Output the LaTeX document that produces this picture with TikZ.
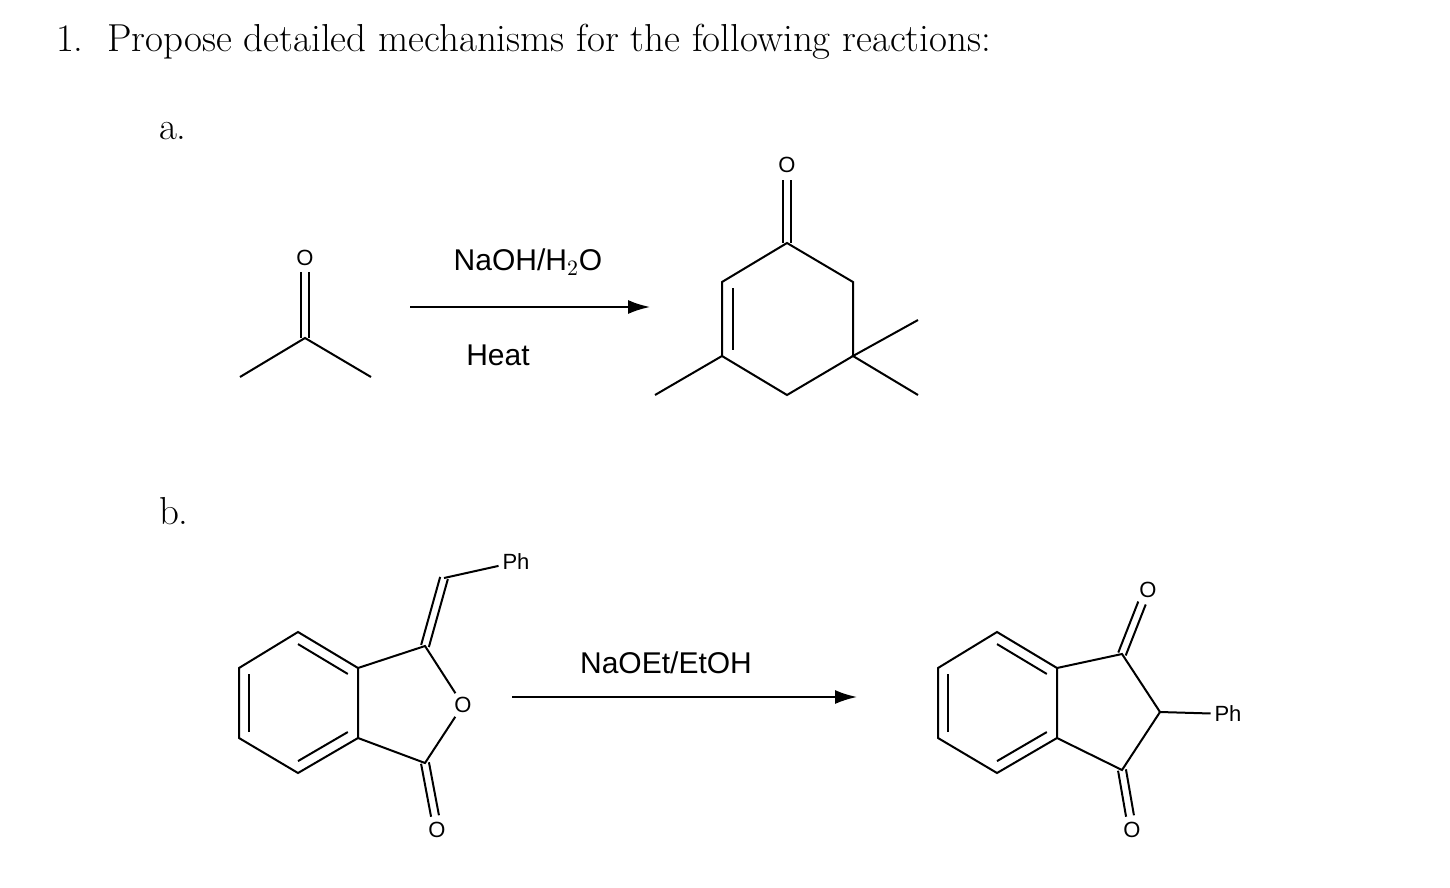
\documentclass[tikz,border=0pt]{standalone}
\usepackage{fontspec}
\newfontfamily\chemfont{Liberation Sans}
\usetikzlibrary{calc, arrows.meta}
\newcommand{\dbond}[2]{%
  \draw ($(#1)!2pt!90:(#2)$) -- ($(#2)!2pt!-90:(#1)$);
  \draw ($(#1)!2pt!-90:(#2)$) -- ($(#2)!2pt!90:(#1)$);}
\newcommand{\inner}[3]{\draw ($(#1)!0.17!(#3)$) -- ($(#2)!0.17!(#3)$);}
\begin{document}
\begin{tikzpicture}[x=0.5pt, y=-0.5pt, line width=1pt,
    atom/.style={font=\chemfont\fontsize{11}{11}\selectfont, inner sep=1.5pt},
    reag/.style={font=\chemfont\fontsize{15}{16}\selectfont},
    txt/.style={font=\fontsize{19.5}{22}\selectfont, anchor=base west, inner sep=0}]
  \useasboundingbox (0,0) rectangle (1450,888);
  \node[txt] (title) at (55,52) {1.\ \ Propose detailed mechanisms for the following reactions:};
  \node[txt] (la) at (158,140) {a.};
  \node[txt] (lb) at (158,524) {b.};

  % acetone
  \coordinate (ac) at (305,338);
  \coordinate (aco) at (305,272);
  \node[atom] (ao) at (305,258) {O};
  \draw (240,377) coordinate (am1) -- (ac) -- (371,377) coordinate (am2);
  \dbond{ac}{aco}

  % arrow a
  \coordinate (a1) at (410,307);
  \coordinate (a2) at (650,307);
  \draw[-{Latex[length=11pt,width=7pt]}] (a1) -- (a2);
  \node[reag] (r1) at (528,262) {NaOH/H$_2$O};
  \node[reag] (r2) at (498,355) {Heat};

  % isophorone
  \coordinate (p1) at (787,243);
  \coordinate (p2) at (853,282);
  \coordinate (p3) at (853,356);
  \coordinate (p4) at (787,395);
  \coordinate (p5) at (722,356);
  \coordinate (p6) at (722,282);
  \coordinate (pc) at (787,319);
  \coordinate (pco) at (787,180);
  \node[atom] (po) at (787,165) {O};
  \draw (p1) -- (p2) -- (p3) -- (p4) -- (p5) -- (p6) -- cycle;
  \inner{p5}{p6}{pc}
  \dbond{p1}{pco}
  \draw (p5) -- (655,395) coordinate (pm1);
  \draw (918,320) coordinate (pm2) -- (p3) -- (918,395) coordinate (pm3);

  % benzylidenephthalide
  \coordinate (b1) at (298,632);
  \coordinate (b2) at (358,668);
  \coordinate (b3) at (358,738);
  \coordinate (b4) at (298,773);
  \coordinate (b5) at (239,738);
  \coordinate (b6) at (239,668);
  \coordinate (bc) at (298,703);
  \draw (b1) -- (b2) -- (b3) -- (b4) -- (b5) -- (b6) -- cycle;
  \inner{b1}{b2}{bc}
  \inner{b3}{b4}{bc}
  \inner{b5}{b6}{bc}
  \coordinate (l1) at (425,646);
  \coordinate (l3) at (425,763);
  \node[atom] (lo) at (463,705) {O};
  \draw (b2) -- (l1) -- (lo) -- (l3) -- (b3);
  \coordinate (lch) at (444,578);
  \dbond{l1}{lch}
  \node[atom] (lph) at (516,562) {Ph};
  \draw (lch) -- (lph);
  \coordinate (lco) at (435,816);
  \node[atom] (lox) at (437,830) {O};
  \dbond{l3}{lco}

  % arrow b
  \coordinate (b1a) at (512,697);
  \coordinate (b2a) at (857,697);
  \draw[-{Latex[length=11pt,width=7pt]}] (b1a) -- (b2a);
  \node[reag] (r3) at (666,663) {NaOEt/EtOH};

  % 2-phenylindane-1,3-dione
  \coordinate (q1) at (997,632);
  \coordinate (q2) at (1057,668);
  \coordinate (q3) at (1057,738);
  \coordinate (q4) at (997,773);
  \coordinate (q5) at (938,738);
  \coordinate (q6) at (938,668);
  \coordinate (qc) at (997,703);
  \draw (q1) -- (q2) -- (q3) -- (q4) -- (q5) -- (q6) -- cycle;
  \inner{q1}{q2}{qc}
  \inner{q3}{q4}{qc}
  \inner{q5}{q6}{qc}
  \coordinate (k1) at (1122,654);
  \coordinate (k2) at (1160,712);
  \coordinate (k3) at (1122,770);
  \draw (q2) -- (k1) -- (k2) -- (k3) -- (q3);
  \node[atom] (kph) at (1228,714) {Ph};
  \draw (k2) -- (kph);
  \coordinate (kco1) at (1142,603);
  \node[atom] (ko1) at (1148,590) {O};
  \dbond{k1}{kco1}
  \coordinate (kco2) at (1130,816);
  \node[atom] (ko2) at (1132,830) {O};
  \dbond{k3}{kco2}
\end{tikzpicture}
\end{document}
